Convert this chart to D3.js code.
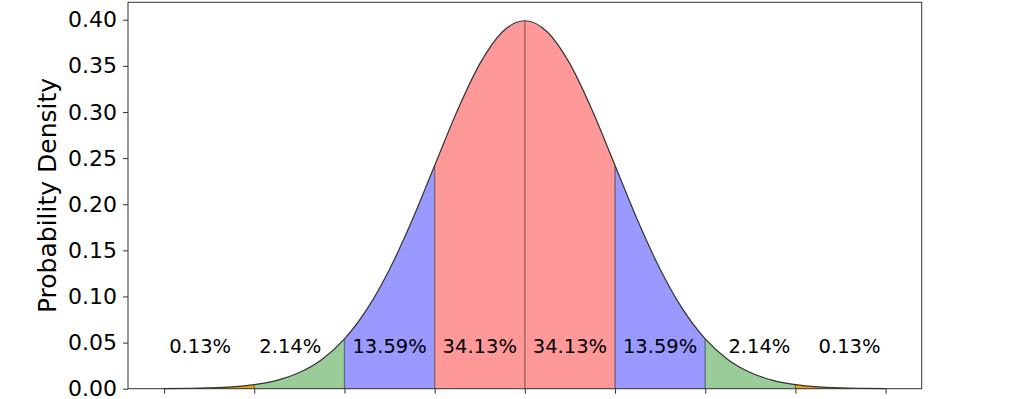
<!DOCTYPE html>
<html>
<head>
<meta charset="utf-8">
<script src="https://cdn.jsdelivr.net/npm/d3@7"></script>
<style>
  html, body { margin: 0; padding: 0; background: #fff; }
  svg { display: block; font-family: 'DejaVu Sans', sans-serif; }
</style>
</head>
<body>
<div id="chart"></div>
<script>
// curve samples (x in standard deviations, y = density)
const xs = [-4, -3.75, -3.5, -3.25, -3, -2.75, -2.5, -2.25, -2, -1.75, -1.5, -1.25, -1, -0.75, -0.5, -0.25,
  0, 0.25, 0.5, 0.75, 1, 1.25, 1.5, 1.75, 2, 2.25, 2.5, 2.75, 3, 3.25, 3.5, 3.75, 4]
const densities = [0.0001, 0.0004, 0.0009, 0.002, 0.0044, 0.0091, 0.0175, 0.0317, 0.054, 0.0863, 0.1295, 0.1826, 0.242, 0.3011, 0.3521, 0.3867,
  0.3989, 0.3867, 0.3521, 0.3011, 0.242, 0.1826, 0.1295, 0.0863, 0.054, 0.0317, 0.0175, 0.0091, 0.0044, 0.002, 0.0009, 0.0004, 0.0001]

// shaded bands
const bandStarts = [-4, -3, -2, -1, 0, 1, 2, 3]
const bandColors = ['#f2a310', '#99cc99', '#9999ff', '#ff9999', '#ff9999', '#9999ff', '#99cc99', '#f2a310']

// percentage labels
const labelTexts = ['0.13%', '2.14%', '13.59%', '34.13%', '34.13%', '13.59%', '2.14%', '0.13%']
const labelX = [-3.6, -2.6, -1.5, -0.5, 0.5, 1.5, 2.6, 3.6]
const labelY = 0.039

const dividers = [-3, -2, -1, 0, 1, 2, 3]
const xTicks = [-4, -3, -2, -1, 0, 1, 2, 3, 4]
const yTicks = [0, 0.05, 0.1, 0.15, 0.2, 0.25, 0.3, 0.35, 0.4]

const width = 1024
const height = 399
const margin = { left: 128, right: 102.3, top: 2.3, bottom: 10.3 }

const points = xs.map((x, i) => ({ x, y: densities[i] }))
const densityAt = x => points.find(p => p.x === x).y

const svg = d3
  .select('#chart')
  .append('svg')
  .attr('width', width)
  .attr('height', height)

const xScale = d3
  .scaleLinear()
  .domain([-4.4, 4.4])
  .range([margin.left, width - margin.right])

const yScale = d3
  .scaleLinear()
  .domain([0, 0.4189])
  .range([height - margin.bottom, margin.top])

const area = d3
  .area()
  .x(d => xScale(d.x))
  .y0(yScale(0))
  .y1(d => yScale(d.y))
  .curve(d3.curveMonotoneX)

const line = d3
  .line()
  .x(d => xScale(d.x))
  .y(d => yScale(d.y))
  .curve(d3.curveMonotoneX)

// fills
svg
  .append('g')
  .selectAll('path')
  .data(bandStarts)
  .join('path')
  .attr('d', s => area(points.filter(p => p.x >= s && p.x <= s + 1)))
  .attr('fill', (s, i) => bandColors[i])

// dividers
svg
  .append('g')
  .selectAll('line')
  .data(dividers)
  .join('line')
  .attr('x1', d => xScale(d))
  .attr('x2', d => xScale(d))
  .attr('y1', yScale(0))
  .attr('y2', d => yScale(densityAt(d)))
  .attr('stroke', '#000')
  .attr('stroke-opacity', 0.45)
  .attr('stroke-width', 1.2)

// outline
svg
  .append('path')
  .attr('d', line(points))
  .attr('fill', 'none')
  .attr('stroke', '#333')
  .attr('stroke-width', 1.2)

// labels
svg
  .append('g')
  .selectAll('text')
  .data(labelTexts)
  .join('text')
  .attr('x', (d, i) => xScale(labelX[i]))
  .attr('y', yScale(labelY))
  .attr('text-anchor', 'middle')
  .attr('font-size', 19.5)
  .attr('fill', '#000')
  .text(d => d)

// frame
svg
  .append('rect')
  .attr('x', xScale.range()[0])
  .attr('y', yScale.range()[1])
  .attr('width', xScale.range()[1] - xScale.range()[0])
  .attr('height', yScale.range()[0] - yScale.range()[1])
  .attr('fill', 'none')
  .attr('stroke', '#333')
  .attr('stroke-width', 1)

// axes
const xAxis = svg
  .append('g')
  .attr('transform', `translate(0, ${yScale(0)})`)
  .call(d3.axisBottom(xScale).tickValues(xTicks).tickSize(5).tickFormat(''))
xAxis.select('.domain').remove()
xAxis.selectAll('.tick line').attr('stroke', '#333')

const yAxis = svg
  .append('g')
  .attr('transform', `translate(${xScale.range()[0]}, 0)`)
  .call(
    d3
      .axisLeft(yScale)
      .tickValues(yTicks)
      .tickSize(5)
      .tickPadding(6)
      .tickFormat(d3.format('.2f')),
  )
yAxis.select('.domain').remove()
yAxis.selectAll('.tick line').attr('stroke', '#333')
yAxis
  .selectAll('.tick text')
  .attr('font-size', 22)
  .attr('font-family', 'DejaVu Sans')
  .attr('fill', '#000')

svg
  .append('text')
  .attr('transform', `translate(56, ${(yScale.range()[0] + yScale.range()[1]) / 2}) rotate(-90)`)
  .attr('text-anchor', 'middle')
  .attr('font-size', 25)
  .attr('fill', '#000')
  .text('Probability Density')
</script>
</body>
</html>
